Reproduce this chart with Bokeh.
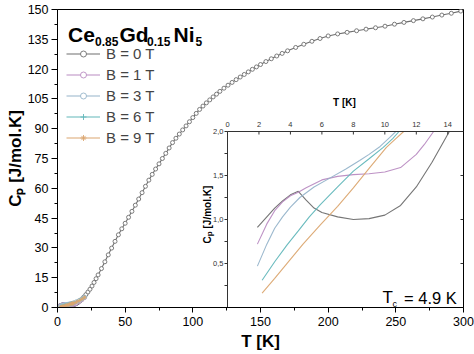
import math
from bokeh.plotting import figure
from bokeh.models import Range1d, FixedTicker, Label, Legend, LegendItem
from bokeh.core.properties import value
from bokeh.embed import file_html
from bokeh.resources import INLINE

# ---------------- data ----------------
series_labels = ["B = 0 T", "B = 1 T", "B = 3 T", "B = 6 T", "B = 9 T"]

t_b0 = [1.9, 2.5, 3.0, 3.5, 4.0, 4.5, 5.0, 5.5, 6.0, 7.0, 8.0, 9.0, 10.0, 11.0, 12.0, 13.0, 14.1,
        15.0, 16.5, 18.0, 19.5, 21.0, 22.5, 24.0, 25.5, 27.0, 28.5, 30.0, 32.5, 35.0, 37.5, 40.0,
        42.5, 45.0, 47.5, 50.0, 52.5, 55.0, 57.5, 60.0, 62.5, 65.0, 67.5, 70.0, 72.5, 75.0, 77.5,
        80.0, 82.5, 85.0, 87.5, 90.0, 92.5, 95.0, 97.5, 100.0, 102.5, 105.0, 107.5, 110.0, 112.5,
        115.0, 117.5, 120.0, 123.0, 126.0, 129.0, 132.0, 135.0, 138.0, 141.0, 144.0, 147.0, 150.0,
        154.0, 158.0, 162.0, 166.0, 170.0, 176.0, 182.0, 188.0, 194.0, 200.0, 207.0, 214.0, 221.0,
        228.0, 235.0, 242.0, 249.0, 256.0, 263.0, 270.0, 277.0, 284.0, 291.0, 298.0]
cp_b0 = [0.91, 1.03, 1.13, 1.21, 1.28, 1.32, 1.22, 1.13, 1.08, 1.03, 1.00, 1.01, 1.05, 1.16, 1.37, 1.65, 2.00,
         2.4, 3.2, 4.2, 5.3, 6.5, 7.8, 9.2, 10.8, 12.6, 14.5, 16.4, 19.6, 23.0, 26.5, 29.9,
         33.3, 36.6, 39.6, 42.4, 45.4, 48.4, 51.5, 54.6, 57.8, 61.0, 64.1, 67.0, 69.7, 72.3, 75.0,
         77.6, 80.3, 83.0, 85.2, 87.3, 89.4, 91.4, 93.5, 95.6, 97.7, 99.7, 101.4, 103.0, 104.5,
         106.0, 107.4, 108.8, 110.4, 111.9, 113.3, 114.7, 116.0, 117.3, 118.6, 119.9, 121.1, 122.3,
         123.8, 125.2, 126.6, 127.9, 129.2, 130.9, 132.5, 134.0, 135.4, 136.7, 137.7, 138.5, 139.3,
         140.1, 140.8, 141.6, 142.6, 143.5, 144.4, 145.3, 146.2, 147.2, 148.1, 149.2]

t_b1 = [1.9, 2.5, 3.0, 3.5, 4.0, 4.5, 5.0, 6.0, 7.0, 8.0, 9.0, 10.0, 11.0, 12.0, 12.5, 13.1, 14.0, 16.0, 18.0, 20.0]
cp_b1 = [0.72, 0.95, 1.10, 1.20, 1.27, 1.31, 1.36, 1.45, 1.49, 1.51, 1.52, 1.54, 1.59, 1.74, 1.85, 2.00, 2.3, 3.0, 3.9, 5.0]

t_b3 = [1.9, 2.5, 3.0, 3.5, 4.0, 4.6, 5.5, 6.5, 7.5, 8.4, 9.0, 9.7, 10.3, 10.7, 12.0, 14.0, 16.0, 18.0, 20.0]
cp_b3 = [0.47, 0.72, 0.90, 1.03, 1.14, 1.25, 1.37, 1.47, 1.57, 1.67, 1.74, 1.83, 1.93, 2.00, 2.4, 2.9, 3.5, 4.3, 5.2]

t_b6 = [2.2, 3.0, 3.8, 4.5, 5.2, 5.9, 7.0, 8.0, 9.0, 9.9, 10.5, 10.9, 12.0, 14.0, 16.0, 18.0, 20.0]
cp_b6 = [0.31, 0.52, 0.715, 0.87, 1.03, 1.17, 1.37, 1.55, 1.69, 1.82, 1.92, 2.00, 2.3, 2.85, 3.5, 4.3, 5.2]

t_b9 = [2.2, 3.0, 3.8, 4.8, 5.9, 7.0, 8.0, 9.0, 10.1, 10.7, 11.2, 12.0, 14.0, 16.0, 18.0, 20.0]
cp_b9 = [0.163, 0.33, 0.505, 0.72, 0.94, 1.15, 1.36, 1.58, 1.82, 1.92, 2.00, 2.2, 2.75, 3.4, 4.2, 5.1]

x_ticks = [0, 50, 100, 150, 200, 250, 300]
x_minor = [25, 75, 125, 175, 225, 275]
y_ticks = [0, 15, 30, 45, 60, 75, 90, 105, 120, 135, 150]
y_minor = [7.5, 22.5, 37.5, 52.5, 67.5, 82.5, 97.5, 112.5, 127.5, 142.5]

inset_x_ticks = [0, 2, 4, 6, 8, 10, 12, 14]
inset_y_ticks = [0.5, 1.0, 1.5, 2.0]
inset_y_tick_labels = ["0,5", "1,0", "1,5", "2,0"]
inset_y_minor = [0.25, 0.75, 1.25, 1.75]
inset_t_range = (0.0, 15.0)
inset_cp_range = (0.0, 2.0)
tc_value = 4.9

# ---------------- styles / layout ----------------
colors = ["#6e6e6e", "#b98cc2", "#96b4ca", "#62b7ba", "#dba670"]
markers = ["circle", "circle", "circle", "cross", "asterisk"]
FONT = "Liberation Sans"

W, H = 474, 354
L, R, T, B = 57, 11, 9, 47
IN_L_PX, IN_R_PX = 227, W - R
IN_T_PX, IN_B_PX = 131, H - B


def fx(px):
    return px - L


def fy(py):
    return (H - B) - py


p = figure(width=W, height=H, output_backend="svg", toolbar_location=None,
           x_range=Range1d(0, 300), y_range=Range1d(0, 150),
           min_border_left=L, min_border_right=R, min_border_top=T, min_border_bottom=B)
p.background_fill_color = "white"
p.border_fill_color = "white"
p.outline_line_color = "black"
p.outline_line_width = 1
p.xgrid.visible = False
p.ygrid.visible = False

# inset scales (data ranges overlaying the frame)
kx = (IN_R_PX - IN_L_PX) / (inset_t_range[1] - inset_t_range[0])
ky = (IN_B_PX - IN_T_PX) / (inset_cp_range[1] - inset_cp_range[0])
p.extra_x_ranges = {"inset": Range1d(inset_t_range[0] - (IN_L_PX - L) / kx, inset_t_range[1])}
p.extra_y_ranges = {"inset": Range1d(inset_cp_range[0] - ((H - B) - IN_B_PX) / ky,
                                     inset_cp_range[0] + (IN_B_PX - T) / ky)}

# axes
for ax in (p.xaxis[0], p.yaxis[0]):
    ax.axis_line_color = "black"
    ax.major_tick_line_color = "black"
    ax.minor_tick_line_color = "black"
    ax.major_tick_in = 0
    ax.minor_tick_in = 0
    ax.major_label_text_font = FONT
    ax.major_label_text_font_size = "12.5px"
    ax.major_label_text_color = "black"
    ax.axis_label_text_font = FONT
    ax.axis_label_text_font_style = "bold"
    ax.axis_label_text_color = "black"
p.xaxis.ticker = FixedTicker(ticks=x_ticks, minor_ticks=x_minor)
p.yaxis.ticker = FixedTicker(ticks=y_ticks, minor_ticks=y_minor)
p.xaxis.major_tick_out = 5
p.xaxis.minor_tick_out = 3
p.xaxis.major_label_standoff = 4
p.yaxis.major_tick_out = 6
p.yaxis.minor_tick_out = 3
p.yaxis.major_label_standoff = 3
p.xaxis.axis_label = "T [K]"
p.xaxis.axis_label_text_font_size = "17px"
p.xaxis.axis_label_standoff = 3
p.yaxis.axis_label = "C\u209a [J/mol.K]"
p.yaxis.axis_label_text_font_size = "17px"
p.yaxis.axis_label_standoff = 0

# main curves
all_t = [t_b0, t_b1, t_b3, t_b6, t_b9]
all_cp = [cp_b0, cp_b1, cp_b3, cp_b6, cp_b9]
legend_items = []
for i in range(5):
    lr = p.line(all_t[i], all_cp[i], line_color=colors[i], line_width=1.1)
    sr = p.scatter(all_t[i], all_cp[i], marker=markers[i], size=4,
                   line_color=colors[i], fill_color="white", line_width=0.9)
    legend_items.append(LegendItem(label=series_labels[i], renderers=[lr, sr]))

# inset curves
for i in range(5):
    keep = [k for k in range(len(all_t[i]))
            if all_cp[i][k] <= inset_cp_range[1] + 1e-9 and all_t[i][k] <= inset_t_range[1]]
    p.line([all_t[i][k] for k in keep], [all_cp[i][k] for k in keep],
           line_color=colors[i], line_width=1.1, line_alpha=0.95,
           x_range_name="inset", y_range_name="inset")

# inset frame
ax_col = "#333333"
t0, t1 = inset_t_range
c0, c1 = inset_cp_range
p.segment(x0=[t0, t0], y0=[c0, c1], x1=[t0, t1], y1=[c1, c1], line_color=ax_col, line_width=1,
          x_range_name="inset", y_range_name="inset")
tick = 3.0
p.segment(x0=inset_x_ticks, y0=[c1] * len(inset_x_ticks), x1=inset_x_ticks,
          y1=[c1 - tick / ky] * len(inset_x_ticks), line_color=ax_col,
          x_range_name="inset", y_range_name="inset")
ly = inset_y_ticks + inset_y_minor
p.segment(x0=[t0] * len(ly), y0=ly, x1=[t0 - tick / kx] * len(ly), y1=ly, line_color=ax_col,
          x_range_name="inset", y_range_name="inset")
p.segment(x0=[t1] * len(inset_y_ticks), y0=inset_y_ticks, x1=[t1 - tick / kx] * len(inset_y_ticks),
          y1=inset_y_ticks, line_color=ax_col, x_range_name="inset", y_range_name="inset")
p.text(x=inset_x_ticks, y=[c1] * len(inset_x_ticks), text=[str(v) for v in inset_x_ticks],
       text_font=value(FONT), text_font_size=value("7.5px"), text_color="#333333",
       text_align="center", text_baseline="bottom", y_offset=-5,
       x_range_name="inset", y_range_name="inset")
p.text(x=[t0] * len(inset_y_ticks), y=inset_y_ticks, text=inset_y_tick_labels,
       text_font=value(FONT), text_font_size=value("7.5px"), text_color="#333333",
       text_align="right", text_baseline="middle", x_offset=-4,
       x_range_name="inset", y_range_name="inset")

# legend (location = bottom-left corner of the legend box, frame-relative)
n_rows = len(series_labels)
row_h, row_gap = 15, 4
leg_h = n_rows * row_h + (n_rows - 1) * row_gap
legend = Legend(items=legend_items, location=(fx(66), fy(54.5 + leg_h)),
                glyph_width=34, glyph_height=row_h, label_height=row_h, spacing=row_gap,
                padding=0, margin=0, border_line_color=None, background_fill_alpha=0,
                label_text_font=FONT, label_text_font_size="15px", label_standoff=6,
                label_text_baseline="middle")
p.add_layout(legend)


def lab(x, y, text, size, bold=False, angle=0.0, align="left", color="black"):
    p.add_layout(Label(x=fx(x), y=fy(y), x_units="screen", y_units="screen", text=text,
                       text_font=FONT, text_font_size=size,
                       text_font_style="bold" if bold else "normal",
                       text_baseline="alphabetic", text_align=align, angle=angle,
                       text_color=color))


# compound title
lab(67.5, 33.5, "Ce", "21px", True)
lab(94.5, 40.5, "0.85", "12px", True)
lab(119.0, 33.5, "Gd", "21px", True)
lab(146.5, 40.5, "0.15", "12px", True)
lab(173.0, 33.5, "Ni", "21px", True)
lab(195.0, 40.5, "5", "12px", True)

# inset labels
lab(344.0, 102.0, "T [K]", "10px", True, align="center")
lab(207.0, 243.0, "C", "10px", True, angle=math.pi / 2)
lab(209.0, 235.8, "p", "8px", True, angle=math.pi / 2)
lab(207.0, 228.0, "[J/mol.K]", "10px", True, angle=math.pi / 2)

# Tc annotation
lab(382.0, 297.0, "T", "17px")
lab(392.0, 303.5, "c", "9px")
lab(403.5, 297.0, f"= {tc_value} K", "16.5px")

open("out.html", "w").write(file_html(p, INLINE))
